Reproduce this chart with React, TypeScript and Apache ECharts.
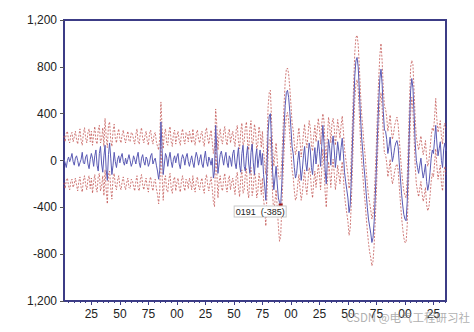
import React, { useEffect, useRef } from "react";
import * as echarts from "echarts";

// observation labels 0001..0336
const categories: string[] = Array.from({ length: 336 }, (_, i) => String(i + 1).padStart(4, "0"));

const yTicks = [-1200, -800, -400, 0, 400, 800, 1200];

const actual: number[] = [
  10, -20, -60, 0, 30, -10, 20, 60, -10, -40,
  20, 40, 0, -50, -20, 10, 70, -20, -30, 30,
  50, -30, -70, 10, 60, 20, -50, 40, 90, -40,
  -90, 60, 120, -30, -100, 40, 130, -80, -170, 50,
  150, 20, -120, -40, 70, -10, -60, 10, 40, -20,
  30, 60, -10, -40, 20, -30, 10, 50, 0, -50,
  -20, 40, 10, -30, 30, 70, -20, -60, 20, 50,
  -10, -40, 30, 10, -50, -20, 40, 60, -30, 0,
  20, -40, -90, -160, -80, 330, 100, -120, -30, 60,
  30, -50, 20, 70, -10, -60, 10, 40, -20, 30,
  60, -30, -70, 10, 50, 20, -40, 30, 60, -10,
  -50, 0, 40, -20, -60, 20, 70, 30, -40, 10,
  50, -30, -60, 20, 80, -10, -50, 30, 0, -40,
  20, -150, -90, 300, 100, -110, -30, 50, 80, 20,
  -40, 30, 70, -20, -60, 40, 10, -50, 60, 90,
  -20, -70, 30, 110, -40, -100, 60, 130, -50, -90,
  40, 120, -30, -110, 70, 140, -20, -120, 30, 100,
  -60, 20, 90, -40, 60, -120, -220, -340, -60, 250,
  380, 400, 150, -100, -250, -150, -50, -200, -320, -360,
  -385, -200, 50, 280, 470, 580, 600, 540, 420, 280,
  120, 60, -60, -150, -110, 0, 80, -40, -170, -80,
  40, 120, -20, -90, 30, 150, 90, -60, -120, 20,
  110, -30, 60, 170, 80, -50, 120, 300, 150, -80,
  -200, 20, 180, 100, -40, 130, 210, 90, -60, 40,
  160, 80, 0, 110, 190, 60, -100, -180, -250, -320,
  -445, -380, -150, 150, 450, 720, 850, 880, 800, 600,
  380, 200, 80, -50, -150, -280, -400, -500, -560, -620,
  -700, -660, -520, -300, -50, 250, 500, 700, 780, 650,
  420, 260, 250, 180, 60, 120, 200, 80, -10, 40,
  110, 150, 170, 120, -20, -150, -280, -380, -460, -500,
  -515, -350, -50, 300, 600, 700, 620, 400, 150, 0,
  -60, -110, -40, 20, -80, -150, -100, -30, -180, -255,
  -200, -100, 20, 90, 60, 180, 300, 150, 40, 100,
  160, 0, -60, 100, 150, 80,
];

const upper: number[] = [
  210, 160, 230, 250, 170, 150, 220, 240, 160, 200,
  250, 180, 140, 210, 270, 170, 130, 230, 280, 190,
  150, 240, 270, 160, 250, 130, 220, 290, 170, 140,
  260, 300, 150, 180, 280, 120, 360, 200, 110, 300,
  330, 170, 120, 250, 310, 190, 150, 230, 270, 180,
  150, 220, 260, 190, 150, 210, 250, 170, 160, 240,
  230, 180, 140, 220, 270, 160, 140, 240, 280, 190,
  150, 210, 250, 170, 130, 230, 260, 180, 140, 220,
  240, 160, 120, 90, 200, 500, 280, 100, 230, 270,
  150, 130, 240, 290, 160, 120, 230, 260, 140, 210,
  250, 170, 130, 230, 270, 180, 140, 240, 220, 160,
  250, 210, 150, 270, 170, 130, 230, 260, 180, 150,
  220, 250, 160, 120, 240, 280, 190, 140, 210, 260,
  160, 60, 110, 440, 300, 90, 220, 270, 170, 140,
  240, 290, 180, 130, 230, 270, 150, 210, 250, 170,
  120, 260, 300, 160, 100, 250, 320, 130, 160, 280,
  330, 150, 90, 270, 340, 110, 170, 310, 250, 90,
  140, 290, 230, 110, 250, 80, -20, -120, 140, 460,
  580, 600, 350, 100, -50, 50, 150, 0, -120, -160,
  -150, 0, 250, 480, 680, 780, 790, 740, 620, 480,
  320, 260, 140, 50, 90, 200, 280, 160, 30, 120,
  230, 310, 180, 110, 220, 340, 280, 130, 80, 210,
  300, 160, 250, 360, 270, 140, 310, 400, 340, 110,
  0, 210, 370, 290, 150, 320, 360, 280, 130, 230,
  350, 270, 190, 300, 380, 250, 100, 20, -50, -120,
  -240, -180, 50, 350, 650, 920, 1050, 1070, 990, 800,
  580, 400, 280, 150, 50, -80, -200, -300, -360, -420,
  -500, -460, -320, -100, 150, 450, 700, 900, 1000, 850,
  620, 460, 440, 370, 250, 310, 390, 270, 180, 230,
  300, 340, 370, 310, 180, 50, -80, -180, -260, -300,
  -320, -150, 150, 500, 800, 855, 820, 600, 350, 200,
  140, 90, 150, 210, 120, 50, 100, 170, 20, -50,
  0, 100, 210, 280, 250, 370, 530, 350, 240, 290,
  340, 200, 140, 280, 320, 260,
];

const lower: number[] = [
  -190, -240, -170, -150, -220, -250, -180, -160, -230, -200,
  -150, -210, -260, -180, -140, -230, -270, -170, -130, -210,
  -250, -160, -130, -240, -150, -280, -180, -120, -230, -270,
  -140, -110, -260, -220, -130, -300, -80, -250, -370, -120,
  -90, -240, -330, -150, -110, -210, -250, -170, -130, -220,
  -250, -180, -140, -210, -250, -190, -150, -230, -240, -160,
  -170, -220, -260, -180, -130, -240, -260, -160, -120, -210,
  -250, -190, -150, -230, -270, -170, -140, -220, -260, -180,
  -160, -240, -290, -370, -250, 150, -120, -340, -170, -130,
  -250, -270, -160, -110, -240, -280, -170, -140, -260, -190,
  -150, -230, -270, -170, -130, -220, -260, -160, -180, -240,
  -150, -190, -250, -130, -230, -270, -170, -140, -220, -250,
  -180, -150, -240, -280, -160, -120, -210, -260, -190, -140,
  -240, -350, -395, 150, -100, -320, -180, -130, -230, -260,
  -160, -110, -220, -270, -170, -130, -250, -190, -150, -230,
  -290, -140, -100, -240, -310, -150, -80, -280, -250, -120,
  -70, -260, -320, -130, -60, -300, -240, -90, -150, -320,
  -270, -110, -170, -290, -150, -330, -420, -560, -280, 40,
  180, 200, -50, -300, -450, -350, -250, -400, -560, -690,
  -650, -400, -150, 80, 260, 380, 410, 340, 220, 80,
  -80, -140, -260, -340, -310, -200, -120, -240, -340, -280,
  -170, -80, -220, -290, -170, -60, -100, -250, -320, -180,
  -90, -230, -140, -30, -120, -250, -80, 100, -50, -270,
  -400, -180, -10, -100, -230, -70, 10, -110, -250, -160,
  -40, -120, -200, -90, -10, -140, -300, -380, -450, -520,
  -640, -580, -350, -50, 250, 520, 650, 690, 610, 400,
  180, 0, -120, -250, -350, -480, -600, -700, -780, -830,
  -900, -860, -720, -500, -250, 50, 300, 500, 580, 450,
  220, 60, 50, -20, -140, -80, 10, -120, -200, -160,
  -90, -50, -30, -80, -220, -350, -480, -580, -660, -700,
  -700, -550, -250, 100, 400, 540, 420, 200, -50, -200,
  -260, -310, -240, -180, -280, -350, -300, -230, -380, -430,
  -400, -300, -180, -110, -140, -20, 100, -50, -160, -100,
  -40, -200, -260, -100, -50, -120,
];

const markedObs = "0191";
const markedValue = -385;

const FRAME = "#3c3c86";
const BLUE = "#5a5ab4";
const RED = "#c0504d";
const FONT = "Liberation Sans, Arial, sans-serif";

export default function App() {
  const ref = useRef<HTMLDivElement>(null);
  useEffect(() => {
    if (!ref.current) return;
    const chart = echarts.init(ref.current, undefined, { renderer: "svg" });
    const fmtY = (v: number) => {
      if (v === -1200) return "1,200";
      return v.toLocaleString("en-US");
    };
    chart.setOption({
      animation: false,
      backgroundColor: "#ffffff",
      grid: {
        left: 64,
        right: 28,
        top: 20,
        bottom: 31,
        show: true,
        borderColor: FRAME,
        borderWidth: 2,
        backgroundColor: "transparent",
      },
      xAxis: [
        {
          type: "category",
          data: categories,
          boundaryGap: false,
          axisLine: { show: true, onZero: false, lineStyle: { color: FRAME, width: 2 } },
          axisTick: {
            show: true,
            interval: (i: number) => (i + 1) % 25 === 0,
            length: 4,
            lineStyle: { color: FRAME, width: 1 },
          },
          axisLabel: {
            interval: (i: number) => (i + 1) % 25 === 0,
            formatter: (v: string) => v.slice(2),
            color: "#222",
            fontSize: 12,
            fontFamily: FONT,
            margin: 7,
          },
          splitLine: { show: false },
        },
        {
          type: "category",
          data: categories,
          boundaryGap: false,
          position: "bottom",
          axisLine: { show: false, onZero: false },
          axisTick: {
            show: true,
            interval: (i: number) => (i + 1) % 5 === 0,
            length: 2,
            lineStyle: { color: FRAME, width: 1 },
          },
          axisLabel: { show: false },
          splitLine: { show: false },
        },
      ],
      yAxis: {
        type: "value",
        min: yTicks[0],
        max: yTicks[yTicks.length - 1],
        interval: 400,
        axisLine: { show: true, onZero: false, lineStyle: { color: FRAME, width: 2 } },
        axisTick: { show: true, length: 4, lineStyle: { color: "#555", width: 1 } },
        axisLabel: {
          formatter: fmtY,
          color: "#222",
          fontSize: 12,
          fontFamily: FONT,
          margin: 7,
        },
        splitLine: { show: false },
      },
      series: [
        {
          name: "Upper",
          type: "line",
          data: upper,
          showSymbol: false,
          symbol: "none",
          lineStyle: { color: RED, width: 1, type: [2, 1.5], opacity: 0.75 },
          z: 2,
        },
        {
          name: "Lower",
          type: "line",
          data: lower,
          showSymbol: false,
          symbol: "none",
          lineStyle: { color: RED, width: 1, type: [2, 1.5], opacity: 0.75 },
          z: 2,
        },
        {
          name: "Actual",
          type: "line",
          data: actual,
          showSymbol: false,
          symbol: "none",
          lineStyle: { color: BLUE, width: 1 },
          z: 3,
          markPoint: {
            symbol: "rect",
            symbolSize: 4,
            itemStyle: { color: "#a01818" },
            data: [{ coord: [markedObs, markedValue], value: markedValue }],
            label: {
              show: true,
              formatter: `${markedObs}  (${markedValue})`,
              position: [-44, 3],
              fontSize: 9,
              fontFamily: FONT,
              color: "#222",
              backgroundColor: "#ffffff",
              borderColor: "#c8c8c8",
              borderWidth: 1,
              padding: [1, 1, 0, 1],
            },
          },
        },
      ],
      graphic: [
        {
          type: "text",
          left: 346,
          top: 311,
          style: {
            text: "CSDN @电气工程研习社",
            fill: "rgba(140,140,140,0.7)",
            fontSize: 11.5,
            fontFamily: "Noto Sans CJK SC, sans-serif",
          },
          z: 10,
        },
      ],
    });
    return () => chart.dispose();
  }, []);
  return (
    <div
      ref={ref}
      style={{ position: "fixed", left: 0, top: 0, width: 474, height: 332, background: "#fff" }}
    />
  );
}
